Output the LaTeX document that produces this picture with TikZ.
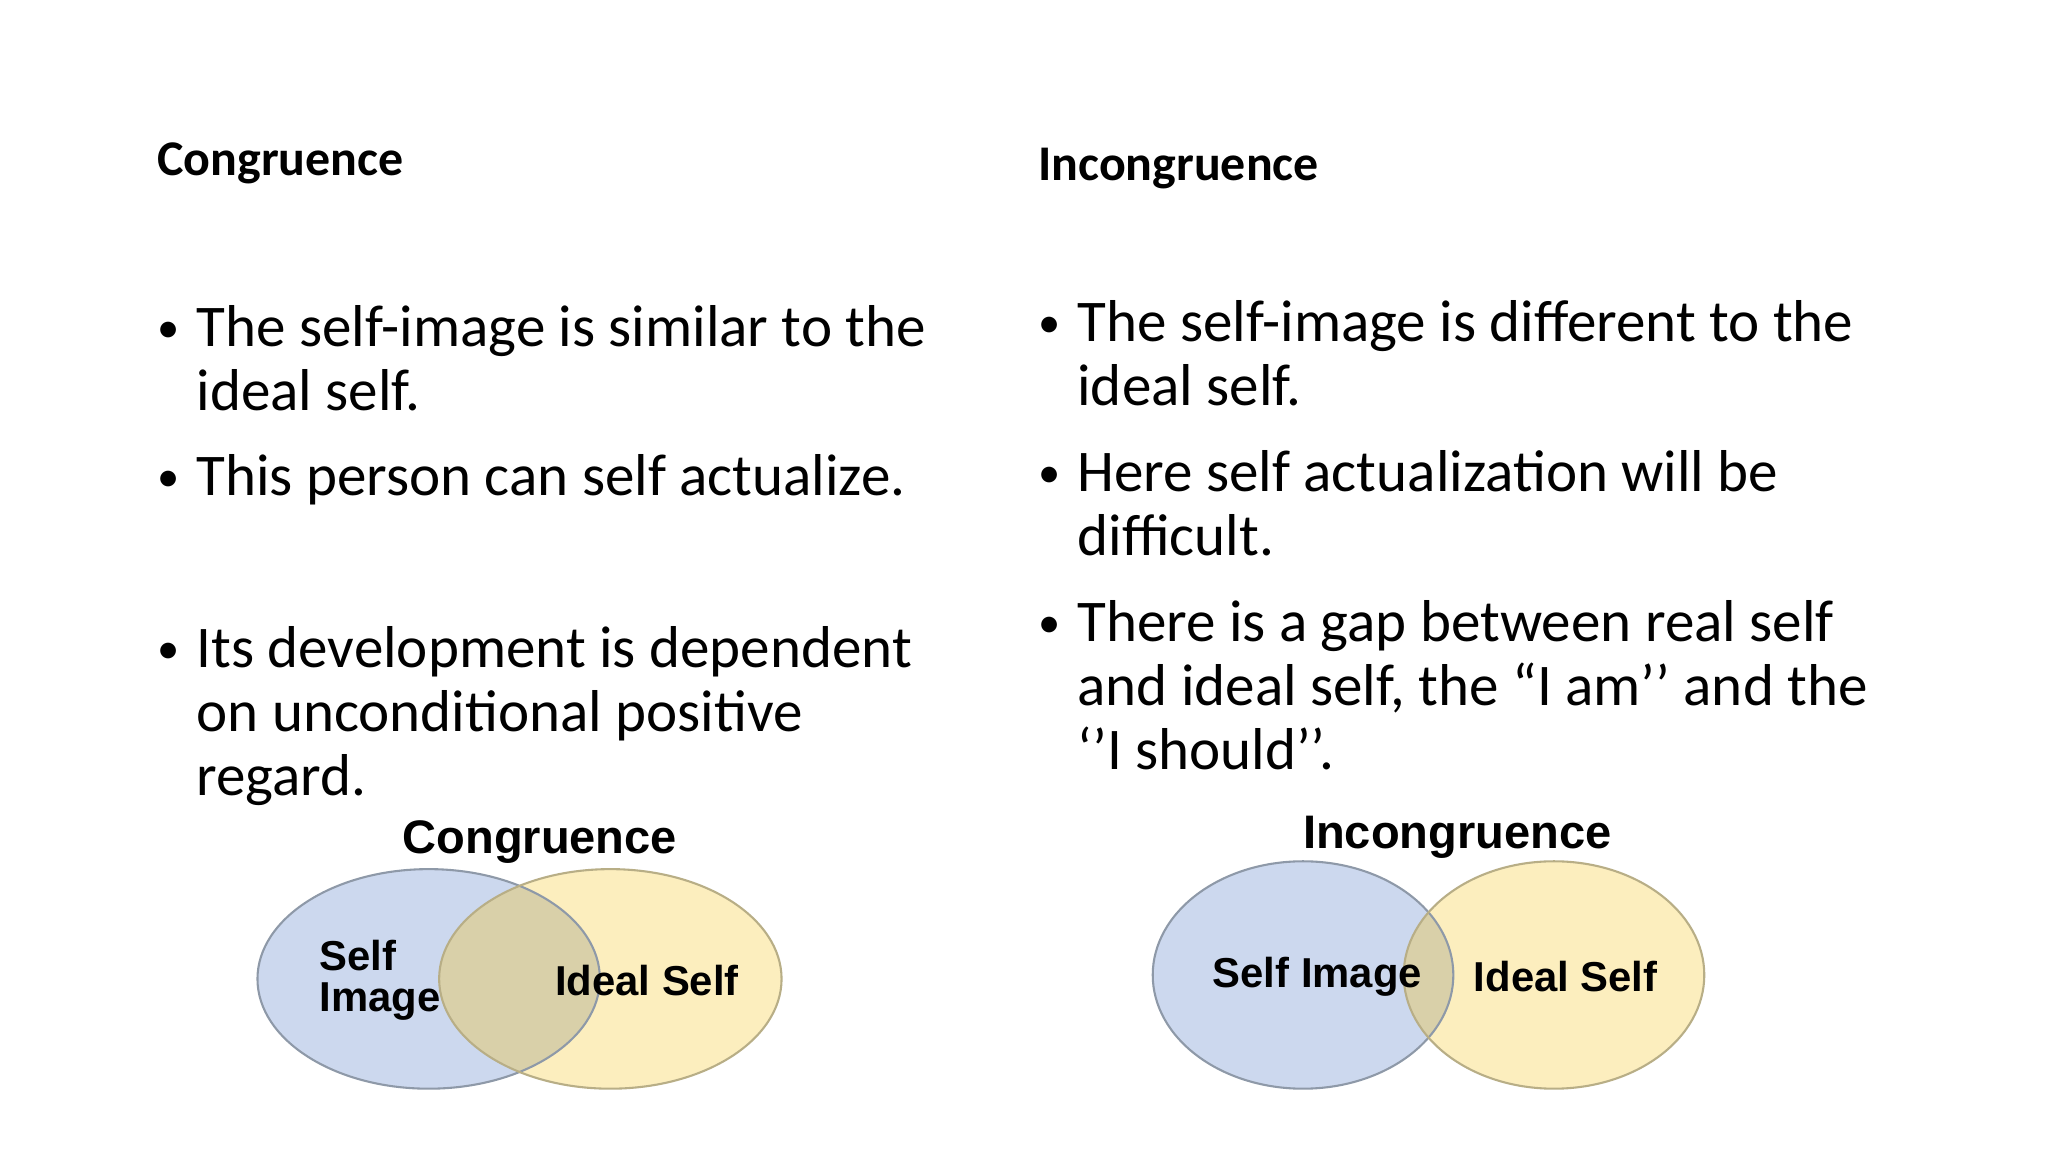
\documentclass[tikz,border=0pt]{standalone}
\usepackage{fontspec}
\setmainfont{Carlito}
\newfontfamily\arialf{Liberation Sans}
\definecolor{vblue}{HTML}{CCD8EE}
\definecolor{vyel}{HTML}{FCEEBE}
\definecolor{vmix}{HTML}{D9D0A9}
\definecolor{vline}{HTML}{8E99A8}
\definecolor{yline}{HTML}{B8AE86}
\begin{document}
\begin{tikzpicture}[x=0.5pt,y=-0.5pt,
  head/.style={anchor=base west,font=\fontsize{19.1}{22}\selectfont\bfseries,inner sep=0},
  btxt/.style={anchor=base west,font=\fontsize{22.6}{26}\selectfont,inner sep=0},
  bul/.style={anchor=base west,font=\fontsize{17}{20}\selectfont,inner sep=0},
  vtitle/.style={font=\arialf\bfseries\fontsize{18}{22}\selectfont,inner sep=0},
  vlab/.style={font=\arialf\bfseries\fontsize{16}{18}\selectfont,inner sep=0,align=left}]
\useasboundingbox (0,0) rectangle (1567,881);
\fill[white] (0,0) rectangle (1567,881);
\node[head] (h1) at (120,134) {Congruence};
\node[head] (h2) at (794,138) {Incongruence};
% left bullets
\foreach \y/\t [count=\i] in {265/The self-image is similar to the,314/ideal self.,379/This person can self actualize.,511/Its development is dependent,560/on unconditional positive,609/regard.}
  \node[btxt] (l\i) at (150,\y) {\t};
\foreach \y [count=\i] in {265,379,511} \node[bul] (lb\i) at (120,\y-3) {•};
% right bullets
\foreach \y/\t [count=\i] in {261/The self-image is different to the,310/ideal self.,376/Here self actualization will be,425/difficult.,491/There is a gap between real self,540/{and ideal self, the “I am’’ and the},589/‘’I should’’.}
  \node[btxt] (r\i) at (824,\y) {\t};
\foreach \y [count=\i] in {261,376,491} \node[bul] (rb\i) at (794,\y-3) {•};
% left venn
\fill[vblue] (328,749) ellipse (131 and 84);
\fill[vyel] (467,749) ellipse (131 and 84);
\begin{scope}\clip (328,749) ellipse (131 and 84); \fill[vmix] (467,749) ellipse (131 and 84);\end{scope}
\draw[vline,line width=0.8] (328,749) ellipse (131 and 84);
\draw[yline,line width=0.8] (467,749) ellipse (131 and 84);
\node[vtitle] (t1) at (413,644) {Congruence};
\node[vlab,anchor=west] (s1) at (244,750) {Self\\[-2pt]Image};
\node[vlab] (i1) at (495,750) {Ideal Self};
% right venn
\fill[vblue] (997,746) ellipse (115 and 87);
\fill[vyel] (1189,746) ellipse (115 and 87);
\begin{scope}\clip (997,746) ellipse (115 and 87); \fill[vmix] (1189,746) ellipse (115 and 87);\end{scope}
\draw[vline,line width=0.8] (997,746) ellipse (115 and 87);
\draw[yline,line width=0.8] (1189,746) ellipse (115 and 87);
\node[vtitle] (t2) at (1115,641) {Incongruence};
\node[vlab] (s2) at (1008,747) {Self Image};
\node[vlab] (i2) at (1198,747) {Ideal Self};
\end{tikzpicture}
\end{document}
